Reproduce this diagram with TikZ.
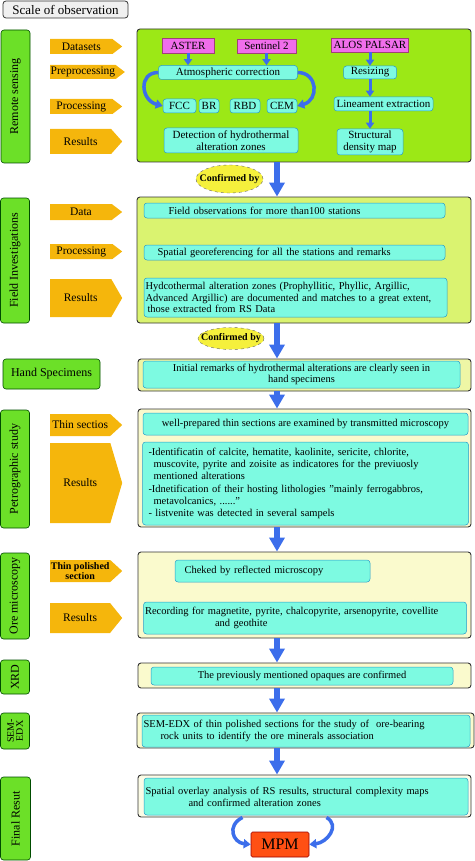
\documentclass[tikz,border=0pt]{standalone}
\usepackage{fontspec}
\setmainfont{Liberation Serif}
\usetikzlibrary{calc, arrows.meta, shapes.geometric, shapes.symbols}

\definecolor{labgreen}{RGB}{108,224,40}
\definecolor{taggold}{RGB}{245,182,12}
\definecolor{rslime}{RGB}{156,232,22}
\definecolor{filime}{RGB}{218,243,112}
\definecolor{hspale}{RGB}{238,246,165}
\definecolor{palecream}{RGB}{250,250,205}
\definecolor{boxcyan}{RGB}{125,250,225}
\definecolor{boxpink}{RGB}{240,110,235}
\definecolor{confyellow}{RGB}{245,240,60}
\definecolor{flowblue}{RGB}{60,110,235}
\definecolor{mpmred}{RGB}{255,80,20}

\begin{document}
\begin{tikzpicture}[x=1pt, y=-1pt,
    every node/.style={font=\fontsize{10.5}{11.8}\selectfont, inner sep=1.5pt},
    panel/.style={draw=black!80, line width=0.9pt, rounded corners=3pt},
    scalebox/.style={panel, rotate=90, fill=labgreen, draw=green!30!black, line width=0.6pt, font=\fontsize{12}{13}\selectfont},
    tag/.style={shape=signal, signal to=east, signal pointer angle=75, fill=taggold, anchor=west, minimum width=72pt, inner xsep=0.5pt, font=\fontsize{11.5}{12}\selectfont},
    cbox/.style={fill=boxcyan, draw=cyan!60!teal, line width=0.5pt, rounded corners=3pt},
    rsbox/.style={cbox, font=\fontsize{11}{12}\selectfont},
    pbox/.style={fill=boxpink, draw=magenta!60!black, line width=0.5pt, font=\fontsize{11}{12}\selectfont},
    confirm/.style={ellipse, fill=confyellow, draw=black!60, dashed, inner sep=0pt, font=\bfseries\fontsize{10}{11}\selectfont},
    flow/.style={draw=flowblue, line width=6.5pt, -{Triangle[width=15pt,length=14pt]}},
    smallflow/.style={draw=flowblue, line width=3pt, -{Triangle[width=8pt,length=6pt]}},
    curveflow/.style={draw=flowblue, line width=3.5pt, -{Triangle[width=9pt,length=7pt]}}
]
\useasboundingbox (0,0) rectangle (474,861);

\node[panel, fill=black!6, line width=0.8pt, minimum width=125pt, minimum height=17pt, font=\fontsize{13}{14}\selectfont] (title) at (65.5,9.5) {Scale of observation};

% Remote sensing
\node[scalebox, minimum width=133pt, minimum height=29pt] (rslab) at (15.5,96.5) {Remote sensing};
\node[tag, minimum height=15pt] (rsdata) at (50,46.5) {Datasets};
\node[tag, minimum height=14pt, minimum width=68pt] (rspre) at (50,72) {Preprocessing};
\node[tag, minimum height=15pt] (rsproc) at (50,106.5) {Processing};
\node[tag, minimum height=25pt, signal pointer angle=97] (rsres) at (50,141.5) {Results};
\node[panel, fill=rslime, minimum width=334pt, minimum height=133pt] (rspanel) at (304,95.5) {};
\node[pbox, minimum width=52pt, minimum height=15pt] (aster) at (188,45.5) {ASTER};
\node[pbox, minimum width=59pt, minimum height=14pt] (sentinel) at (266.5,46) {Sentinel 2};
\node[pbox, minimum width=77pt, minimum height=14pt] (alos) at (370,45) {ALOS PALSAR};
\node[rsbox, minimum width=139pt, minimum height=14pt] (atmos) at (228,72.5) {Atmospheric correction};
\node[rsbox, minimum width=33pt, minimum height=14pt] (fcc) at (179.5,106) {FCC};
\node[rsbox, minimum width=20pt, minimum height=14pt] (br) at (209,106) {BR};
\node[rsbox, minimum width=30pt, minimum height=14pt] (rbd) at (245,106) {RBD};
\node[rsbox, minimum width=30pt, minimum height=14pt] (cem) at (282,106) {CEM};
\node[rsbox, minimum width=134pt, minimum height=25pt, align=center] (detect) at (231,140.5) {Detection of hydrothermal\\alteration zones};
\node[rsbox, minimum width=53pt, minimum height=13pt] (resize) at (370,72.5) {Resizing};
\node[rsbox, minimum width=99pt, minimum height=14pt] (linea) at (383.5,104) {Lineament extraction};
\node[rsbox, minimum width=66pt, minimum height=26pt, align=center] (density) at (370,142) {Structural\\density map};
\node[confirm, minimum width=67pt, minimum height=28pt] (conf1) at (229.5,179) {\makebox[40pt]{Confirmed by}};

% Field investigations
\node[scalebox, minimum width=125pt, minimum height=29pt] (filab) at (15,260.5) {Field Investigations};
\node[tag, minimum height=16pt] (fidata) at (50,212) {Data};
\node[tag, minimum height=15pt] (fiproc) at (50,251.5) {Processing};
\node[tag, minimum height=38pt, signal pointer angle=120] (fires) at (50,298) {Results};
\node[panel, fill=filime, minimum width=334pt, minimum height=126pt] (fipanel) at (304,260) {};
\node[cbox, text width=298pt, minimum height=15pt, align=left] (fiobs) at (294.5,210.5) {\hspace*{23pt}Field observations for more than100 stations};
\node[cbox, text width=298pt, minimum height=15pt, align=left] (figeo) at (294.5,252.5) {\hspace*{12pt}Spatial georeferencing for all the stations and remarks};
\node[cbox, text width=300pt, minimum height=39pt, align=left] (fizones) at (295.5,297.5) {Hydcothermal alteration zones (Prophyllitic, Phyllic, Argillic,\\Advanced Argillic) are documented and matches to a great extent,\\\hspace*{2pt}those extracted from RS Data};
\node[confirm, minimum width=66pt, minimum height=22pt] (conf2) at (231,338.5) {\makebox[40pt]{Confirmed by}};

% Hand specimens
\node[panel, fill=labgreen, draw=green!30!black, line width=0.6pt, minimum width=97pt, minimum height=30pt, font=\fontsize{12}{13}\selectfont] (hslab) at (51.5,374) {Hand Specimens};
\node[panel, fill=hspale, minimum width=333pt, minimum height=32pt] (hspanel) at (304.5,375) {};
\node[cbox, minimum width=317pt, minimum height=27pt, align=center] (hsbox) at (301.5,374.5) {Initial remarks of hydrothermal alterations are clearly seen in\\hand specimens};

% Petrographic study
\node[scalebox, minimum width=118pt, minimum height=29pt] (pelab) at (15,469) {Petrographic study};
\node[tag, minimum height=22pt, signal pointer angle=85] (pethin) at (50,425) {Thin sectios};
\node[tag, minimum height=80pt, signal pointer angle=147] (peres) at (50,483) {Results};
\node[panel, fill=palecream, minimum width=333pt, minimum height=118pt] (pepanel) at (304.5,468) {};
\node[cbox, minimum width=325pt, minimum height=22pt] (pethinbox) at (305.5,424) {well-prepared thin sections are examined by transmitted microscopy};
\node[cbox, text width=314pt, inner xsep=6pt, minimum height=83pt, align=left, font=\fontsize{10.5}{12.2}\selectfont] (peresbox) at (305.5,483.5) {-Identificatin of calcite, hematite, kaolinite, sericite, chlorite,\\\hspace*{5pt}muscovite, pyrite and zoisite as indicatores for the previuosly\\\hspace*{5pt}mentioned alterations\\-Idnetification of their hosting lithologies "mainly ferrogabbros,\\\hspace*{5pt}metavolcanics, ......"\\- listvenite was detected in several sampels};

% Ore microscopy
\node[scalebox, minimum width=86pt, minimum height=29pt] (orlab) at (15,596) {Ore microscopy};
\node[tag, minimum height=22pt, signal pointer angle=85, align=center, inner xsep=0pt, font=\bfseries\fontsize{10}{10}\selectfont] (orthin) at (50,571) {Thin polished\\section};
\node[tag, minimum height=30pt, signal pointer angle=102] (orres) at (50,618) {Results};
\node[panel, fill=palecream, minimum width=333pt, minimum height=86pt] (orpanel) at (304.5,595) {};
\node[cbox, text width=192pt, minimum height=22pt, align=left] (orrefl) at (272.5,571) {\hspace*{8pt}Cheked by reflected microscopy};
\node[cbox, text width=320pt, minimum height=32pt, align=left] (orrec) at (305,618) {Recording for magnetite, pyrite, chalcopyrite, arsenopyrite, covellite\\\hspace*{70pt}and geothite};

% XRD and SEM-EDX
\node[scalebox, minimum width=34pt, minimum height=29pt] (xrdlab) at (15,677) {XRD};
\node[panel, fill=palecream, minimum width=333pt, minimum height=25pt] (xrdpanel) at (304.5,675.5) {};
\node[cbox, minimum width=302pt, minimum height=18pt] (xrdbox) at (302,676) {The previously mentioned opaques are confirmed};
\node[scalebox, minimum width=36pt, minimum height=29pt, align=center, font=\fontsize{10}{9}\selectfont] (semlab) at (15,731) {SEM-\\EDX};
\node[panel, fill=palecream, minimum width=337pt, minimum height=35pt] (sempanel) at (305.5,730.5) {};
\node[cbox, text width=325pt, minimum height=32pt, align=left] (sembox) at (306,731) {SEM-EDX of thin polished sections for the study of \ ore-bearing\\\hspace*{17pt}rock units to identify the ore minerals association};

% Final result
\node[scalebox, minimum width=83pt, minimum height=30pt] (finlab) at (15.5,818.5) {Final Resut};
\node[panel, fill=palecream!50!white, minimum width=333pt, minimum height=42pt] (finpanel) at (304.5,796) {};
\node[cbox, text width=321pt, minimum height=37pt, align=left] (finbox) at (306,796.5) {Spatial overlay analysis of RS results, structural complexity maps\\\hspace*{43pt}and confirmed alteration zones};
\node[draw=red!60!black, fill=mpmred, line width=0.6pt, rounded corners=1.5pt, minimum width=58pt, minimum height=25pt, font=\fontsize{16}{16}\selectfont] (mpm) at (280,844.5) {MPM};

% arrows
\draw[smallflow] (aster.south) -- (aster.south |- atmos.north);
\draw[smallflow] (sentinel.south) -- (sentinel.south |- atmos.north);
\draw[smallflow] (alos.south) -- (resize.north);
\draw[smallflow] (resize.south) -- (resize.south |- linea.north);
\draw[smallflow] (linea.south -| density) -- (density.north);
\draw[curveflow] (atmos.west) .. controls +(-20,0) and +(-22,-6) .. (fcc.west);
\draw[curveflow] (atmos.east) .. controls +(20,0) and +(22,-6) .. (cem.east);

\coordinate (spine) at (277,0);
\draw[flow] (rspanel.south -| spine) -- (fipanel.north -| spine);
\draw[flow] (fipanel.south -| spine) -- (hspanel.north -| spine);
\draw[flow] (hspanel.south -| spine) -- (pepanel.north -| spine);
\draw[flow] (pepanel.south -| spine) -- (orpanel.north -| spine);
\draw[flow] (orpanel.south -| spine) -- (xrdpanel.north -| spine);
\draw[flow] (xrdpanel.south -| spine) -- (sempanel.north -| spine);
\draw[flow] (sempanel.south -| spine) -- (finpanel.north -| spine);
\draw[curveflow] ($(finpanel.south)+(-62,0)$) .. controls +(-16,8) and +(-18,-2) .. (mpm.west);
\draw[curveflow] ($(finpanel.south)+(22,0)$) .. controls +(14,8) and +(18,-2) .. (mpm.east);
\end{tikzpicture}
\end{document}
